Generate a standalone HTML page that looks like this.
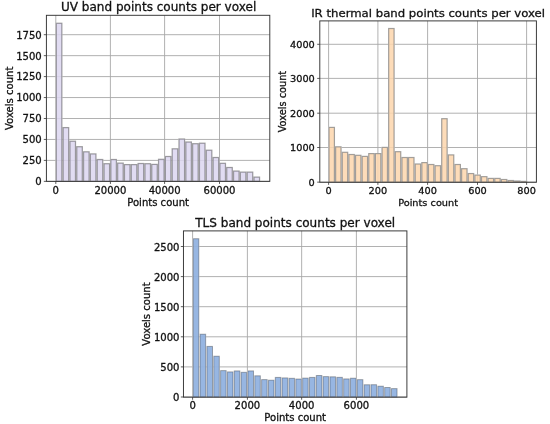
<!DOCTYPE html>
<html><head><meta charset="utf-8"><title>Points counts per voxel</title>
<style>html,body{margin:0;padding:0;background:#fff;overflow:hidden}svg{display:block}</style></head>
<body>
<svg width="550" height="424" viewBox="0 0 550 424" font-family='"DejaVu Sans", "Liberation Sans", sans-serif'>
<rect width="550" height="424" fill="#fff"/>
<g>
<g stroke="#a8a8a8" stroke-width="0.9"><line x1="55.8" y1="15.3" x2="55.8" y2="181.35"/><line x1="110.4" y1="15.3" x2="110.4" y2="181.35"/><line x1="164.6" y1="15.3" x2="164.6" y2="181.35"/><line x1="219.5" y1="15.3" x2="219.5" y2="181.35"/><line x1="46.4" y1="181.35" x2="269.8" y2="181.35"/><line x1="46.4" y1="160.4" x2="269.8" y2="160.4"/><line x1="46.4" y1="139.45" x2="269.8" y2="139.45"/><line x1="46.4" y1="118.5" x2="269.8" y2="118.5"/><line x1="46.4" y1="97.55" x2="269.8" y2="97.55"/><line x1="46.4" y1="76.6" x2="269.8" y2="76.6"/><line x1="46.4" y1="55.65" x2="269.8" y2="55.65"/><line x1="46.4" y1="34.7" x2="269.8" y2="34.7"/></g>
<g fill="none" stroke="#fff" stroke-width="1.235"><rect x="56.29" y="23.25" width="5.58" height="158.1"/><rect x="63.1" y="127.6" width="5.58" height="53.75"/><rect x="69.92" y="141.2" width="5.58" height="40.15"/><rect x="76.74" y="146.7" width="5.58" height="34.65"/><rect x="83.55" y="151.8" width="5.58" height="29.55"/><rect x="90.37" y="153.9" width="5.58" height="27.45"/><rect x="97.19" y="159.5" width="5.58" height="21.85"/><rect x="104" y="163.7" width="5.58" height="17.65"/><rect x="110.82" y="159.5" width="5.58" height="21.85"/><rect x="117.64" y="163.1" width="5.58" height="18.25"/><rect x="124.46" y="164.6" width="5.58" height="16.75"/><rect x="131.27" y="164.6" width="5.58" height="16.75"/><rect x="138.09" y="163.5" width="5.58" height="17.85"/><rect x="144.91" y="163.7" width="5.58" height="17.65"/><rect x="151.72" y="164.4" width="5.58" height="16.95"/><rect x="158.54" y="159.3" width="5.58" height="22.05"/><rect x="165.36" y="156.5" width="5.58" height="24.85"/><rect x="172.17" y="148.8" width="5.58" height="32.55"/><rect x="178.99" y="139" width="5.58" height="42.35"/><rect x="185.81" y="142" width="5.58" height="39.35"/><rect x="192.62" y="143.7" width="5.58" height="37.65"/><rect x="199.44" y="143.2" width="5.58" height="38.15"/><rect x="206.26" y="150.2" width="5.58" height="31.15"/><rect x="213.08" y="157.5" width="5.58" height="23.85"/><rect x="219.89" y="163.3" width="5.58" height="18.05"/><rect x="226.71" y="167.5" width="5.58" height="13.85"/><rect x="233.53" y="171.05" width="5.58" height="10.3"/><rect x="240.34" y="172.1" width="5.58" height="9.25"/><rect x="247.16" y="172.1" width="5.58" height="9.25"/><rect x="253.98" y="177.1" width="5.58" height="4.25"/></g>
<g fill="#dcd6f0" fill-opacity="0.86" stroke="#000" stroke-opacity="0.36" stroke-width="1.235"><rect x="56.29" y="23.25" width="5.58" height="158.1"/><rect x="63.1" y="127.6" width="5.58" height="53.75"/><rect x="69.92" y="141.2" width="5.58" height="40.15"/><rect x="76.74" y="146.7" width="5.58" height="34.65"/><rect x="83.55" y="151.8" width="5.58" height="29.55"/><rect x="90.37" y="153.9" width="5.58" height="27.45"/><rect x="97.19" y="159.5" width="5.58" height="21.85"/><rect x="104" y="163.7" width="5.58" height="17.65"/><rect x="110.82" y="159.5" width="5.58" height="21.85"/><rect x="117.64" y="163.1" width="5.58" height="18.25"/><rect x="124.46" y="164.6" width="5.58" height="16.75"/><rect x="131.27" y="164.6" width="5.58" height="16.75"/><rect x="138.09" y="163.5" width="5.58" height="17.85"/><rect x="144.91" y="163.7" width="5.58" height="17.65"/><rect x="151.72" y="164.4" width="5.58" height="16.95"/><rect x="158.54" y="159.3" width="5.58" height="22.05"/><rect x="165.36" y="156.5" width="5.58" height="24.85"/><rect x="172.17" y="148.8" width="5.58" height="32.55"/><rect x="178.99" y="139" width="5.58" height="42.35"/><rect x="185.81" y="142" width="5.58" height="39.35"/><rect x="192.62" y="143.7" width="5.58" height="37.65"/><rect x="199.44" y="143.2" width="5.58" height="38.15"/><rect x="206.26" y="150.2" width="5.58" height="31.15"/><rect x="213.08" y="157.5" width="5.58" height="23.85"/><rect x="219.89" y="163.3" width="5.58" height="18.05"/><rect x="226.71" y="167.5" width="5.58" height="13.85"/><rect x="233.53" y="171.05" width="5.58" height="10.3"/><rect x="240.34" y="172.1" width="5.58" height="9.25"/><rect x="247.16" y="172.1" width="5.58" height="9.25"/><rect x="253.98" y="177.1" width="5.58" height="4.25"/></g>
<g stroke="#333" stroke-width="0.8"><line x1="55.8" y1="181.35" x2="55.8" y2="183.95"/><line x1="110.4" y1="181.35" x2="110.4" y2="183.95"/><line x1="164.6" y1="181.35" x2="164.6" y2="183.95"/><line x1="219.5" y1="181.35" x2="219.5" y2="183.95"/><line x1="43.8" y1="181.35" x2="46.4" y2="181.35"/><line x1="43.8" y1="160.4" x2="46.4" y2="160.4"/><line x1="43.8" y1="139.45" x2="46.4" y2="139.45"/><line x1="43.8" y1="118.5" x2="46.4" y2="118.5"/><line x1="43.8" y1="97.55" x2="46.4" y2="97.55"/><line x1="43.8" y1="76.6" x2="46.4" y2="76.6"/><line x1="43.8" y1="55.65" x2="46.4" y2="55.65"/><line x1="43.8" y1="34.7" x2="46.4" y2="34.7"/></g>
<rect x="46.4" y="15.3" width="223.4" height="166.05" fill="none" stroke="#333" stroke-width="0.95"/>
<g font-size="10.05" fill="#111" stroke="#111" stroke-width="0.3"><text transform="translate(55.8 193.5) scale(1 0.96)" text-anchor="middle">0</text><text transform="translate(110.4 193.5) scale(1 0.96)" text-anchor="middle">20000</text><text transform="translate(164.6 193.5) scale(1 0.96)" text-anchor="middle">40000</text><text transform="translate(219.5 193.5) scale(1 0.96)" text-anchor="middle">60000</text><text transform="translate(41.7 185.22) scale(1 0.96)" text-anchor="end">0</text><text transform="translate(41.7 164.27) scale(1 0.96)" text-anchor="end">250</text><text transform="translate(41.7 143.32) scale(1 0.96)" text-anchor="end">500</text><text transform="translate(41.7 122.37) scale(1 0.96)" text-anchor="end">750</text><text transform="translate(41.7 101.42) scale(1 0.96)" text-anchor="end">1000</text><text transform="translate(41.7 80.47) scale(1 0.96)" text-anchor="end">1250</text><text transform="translate(41.7 59.52) scale(1 0.96)" text-anchor="end">1500</text><text transform="translate(41.7 38.57) scale(1 0.96)" text-anchor="end">1750</text><text transform="translate(158.1 205.6) scale(1 0.96)" text-anchor="middle">Points count</text><text transform="translate(12.7 98.33) rotate(-90)" text-anchor="middle">Voxels count</text></g>
<text transform="translate(158.6 11.4) scale(1 0.96)" text-anchor="middle" font-size="12.05" fill="#111" stroke="#111" stroke-width="0.3">UV band points counts per voxel</text>
</g>
<g>
<g stroke="#a8a8a8" stroke-width="0.9"><line x1="328.6" y1="20.9" x2="328.6" y2="182.25"/><line x1="377.9" y1="20.9" x2="377.9" y2="182.25"/><line x1="427.6" y1="20.9" x2="427.6" y2="182.25"/><line x1="477.5" y1="20.9" x2="477.5" y2="182.25"/><line x1="526.6" y1="20.9" x2="526.6" y2="182.25"/><line x1="319.8" y1="182.15" x2="536.4" y2="182.15"/><line x1="319.8" y1="147.5" x2="536.4" y2="147.5"/><line x1="319.8" y1="113.2" x2="536.4" y2="113.2"/><line x1="319.8" y1="78.4" x2="536.4" y2="78.4"/><line x1="319.8" y1="44.3" x2="536.4" y2="44.3"/></g>
<g fill="none" stroke="#fff" stroke-width="1.2"><rect x="328.99" y="127.4" width="5.43" height="54.85"/><rect x="335.62" y="146.8" width="5.43" height="35.45"/><rect x="342.25" y="152.3" width="5.43" height="29.95"/><rect x="348.88" y="154.5" width="5.43" height="27.75"/><rect x="355.51" y="155.3" width="5.43" height="26.95"/><rect x="362.14" y="156.4" width="5.43" height="25.85"/><rect x="368.77" y="153.6" width="5.43" height="28.65"/><rect x="375.4" y="153.6" width="5.43" height="28.65"/><rect x="382.03" y="147.4" width="5.43" height="34.85"/><rect x="388.66" y="28.5" width="5.43" height="153.75"/><rect x="395.3" y="151.7" width="5.43" height="30.55"/><rect x="401.93" y="157.5" width="5.43" height="24.75"/><rect x="408.56" y="157.5" width="5.43" height="24.75"/><rect x="415.19" y="164" width="5.43" height="18.25"/><rect x="421.82" y="162.6" width="5.43" height="19.65"/><rect x="428.45" y="164.5" width="5.43" height="17.75"/><rect x="435.08" y="165.7" width="5.43" height="16.55"/><rect x="441.71" y="118.7" width="5.43" height="63.55"/><rect x="448.34" y="154.9" width="5.43" height="27.35"/><rect x="454.97" y="164.5" width="5.43" height="17.75"/><rect x="461.61" y="168.7" width="5.43" height="13.55"/><rect x="468.24" y="173.55" width="5.43" height="8.7"/><rect x="474.87" y="175.1" width="5.43" height="7.15"/><rect x="481.5" y="176.65" width="5.43" height="5.6"/><rect x="488.13" y="178.4" width="5.43" height="3.85"/><rect x="494.76" y="178.4" width="5.43" height="3.85"/><rect x="501.39" y="179.5" width="5.43" height="2.75"/><rect x="508.02" y="180.5" width="5.43" height="1.75"/><rect x="514.65" y="181" width="5.43" height="1.25"/><rect x="521.28" y="181.4" width="5.43" height="0.85"/></g>
<g fill="#fdd6ae" fill-opacity="0.86" stroke="#7c7c7c" stroke-opacity="0.7" stroke-width="1.2"><rect x="328.99" y="127.4" width="5.43" height="54.85"/><rect x="335.62" y="146.8" width="5.43" height="35.45"/><rect x="342.25" y="152.3" width="5.43" height="29.95"/><rect x="348.88" y="154.5" width="5.43" height="27.75"/><rect x="355.51" y="155.3" width="5.43" height="26.95"/><rect x="362.14" y="156.4" width="5.43" height="25.85"/><rect x="368.77" y="153.6" width="5.43" height="28.65"/><rect x="375.4" y="153.6" width="5.43" height="28.65"/><rect x="382.03" y="147.4" width="5.43" height="34.85"/><rect x="388.66" y="28.5" width="5.43" height="153.75"/><rect x="395.3" y="151.7" width="5.43" height="30.55"/><rect x="401.93" y="157.5" width="5.43" height="24.75"/><rect x="408.56" y="157.5" width="5.43" height="24.75"/><rect x="415.19" y="164" width="5.43" height="18.25"/><rect x="421.82" y="162.6" width="5.43" height="19.65"/><rect x="428.45" y="164.5" width="5.43" height="17.75"/><rect x="435.08" y="165.7" width="5.43" height="16.55"/><rect x="441.71" y="118.7" width="5.43" height="63.55"/><rect x="448.34" y="154.9" width="5.43" height="27.35"/><rect x="454.97" y="164.5" width="5.43" height="17.75"/><rect x="461.61" y="168.7" width="5.43" height="13.55"/><rect x="468.24" y="173.55" width="5.43" height="8.7"/><rect x="474.87" y="175.1" width="5.43" height="7.15"/><rect x="481.5" y="176.65" width="5.43" height="5.6"/><rect x="488.13" y="178.4" width="5.43" height="3.85"/><rect x="494.76" y="178.4" width="5.43" height="3.85"/><rect x="501.39" y="179.5" width="5.43" height="2.75"/><rect x="508.02" y="180.5" width="5.43" height="1.75"/><rect x="514.65" y="181" width="5.43" height="1.25"/><rect x="521.28" y="181.4" width="5.43" height="0.85"/></g>
<g stroke="#333" stroke-width="0.8"><line x1="328.6" y1="182.25" x2="328.6" y2="184.85"/><line x1="377.9" y1="182.25" x2="377.9" y2="184.85"/><line x1="427.6" y1="182.25" x2="427.6" y2="184.85"/><line x1="477.5" y1="182.25" x2="477.5" y2="184.85"/><line x1="526.6" y1="182.25" x2="526.6" y2="184.85"/><line x1="317.2" y1="182.15" x2="319.8" y2="182.15"/><line x1="317.2" y1="147.5" x2="319.8" y2="147.5"/><line x1="317.2" y1="113.2" x2="319.8" y2="113.2"/><line x1="317.2" y1="78.4" x2="319.8" y2="78.4"/><line x1="317.2" y1="44.3" x2="319.8" y2="44.3"/></g>
<rect x="319.8" y="20.9" width="216.6" height="161.35" fill="none" stroke="#333" stroke-width="0.95"/>
<g font-size="9.75" fill="#111" stroke="#111" stroke-width="0.3"><text transform="translate(328.6 194) scale(1 0.96)" text-anchor="middle">0</text><text transform="translate(377.9 194) scale(1 0.96)" text-anchor="middle">200</text><text transform="translate(427.6 194) scale(1 0.96)" text-anchor="middle">400</text><text transform="translate(477.5 194) scale(1 0.96)" text-anchor="middle">600</text><text transform="translate(526.6 194) scale(1 0.96)" text-anchor="middle">800</text><text transform="translate(314.8 185.92) scale(1 0.96)" text-anchor="end">0</text><text transform="translate(314.8 151.27) scale(1 0.96)" text-anchor="end">1000</text><text transform="translate(314.8 116.97) scale(1 0.96)" text-anchor="end">2000</text><text transform="translate(314.8 82.17) scale(1 0.96)" text-anchor="end">3000</text><text transform="translate(314.8 48.07) scale(1 0.96)" text-anchor="end">4000</text><text transform="translate(428.1 205.8) scale(1 0.96)" text-anchor="middle">Points count</text><text transform="translate(286.2 101.58) rotate(-90)" text-anchor="middle">Voxels count</text></g>
<text transform="translate(428.1 17.1) scale(1 0.96)" text-anchor="middle" font-size="11.7" fill="#111" stroke="#111" stroke-width="0.3">IR thermal band points counts per voxel</text>
</g>
<g>
<g stroke="#a8a8a8" stroke-width="0.9"><line x1="192.6" y1="230.9" x2="192.6" y2="397.15"/><line x1="247.4" y1="230.9" x2="247.4" y2="397.15"/><line x1="301.65" y1="230.9" x2="301.65" y2="397.15"/><line x1="356.4" y1="230.9" x2="356.4" y2="397.15"/><line x1="183.45" y1="397" x2="406.9" y2="397"/><line x1="183.45" y1="366.9" x2="406.9" y2="366.9"/><line x1="183.45" y1="336.8" x2="406.9" y2="336.8"/><line x1="183.45" y1="306.7" x2="406.9" y2="306.7"/><line x1="183.45" y1="276.6" x2="406.9" y2="276.6"/><line x1="183.45" y1="246.5" x2="406.9" y2="246.5"/></g>
<g fill="none" stroke="#fff" stroke-width="1.0"><rect x="193.25" y="238.7" width="5.57" height="158.45"/><rect x="200.09" y="334.2" width="5.57" height="62.95"/><rect x="206.92" y="346.4" width="5.57" height="50.75"/><rect x="213.76" y="356.2" width="5.57" height="40.95"/><rect x="220.59" y="370.6" width="5.57" height="26.55"/><rect x="227.43" y="371.9" width="5.57" height="25.25"/><rect x="234.27" y="370.9" width="5.57" height="26.25"/><rect x="241.1" y="372.3" width="5.57" height="24.85"/><rect x="247.94" y="370.9" width="5.57" height="26.25"/><rect x="254.77" y="375.8" width="5.57" height="21.35"/><rect x="261.61" y="379.6" width="5.57" height="17.55"/><rect x="268.45" y="380.2" width="5.57" height="16.95"/><rect x="275.28" y="377.4" width="5.57" height="19.75"/><rect x="282.12" y="377.9" width="5.57" height="19.25"/><rect x="288.95" y="378.3" width="5.57" height="18.85"/><rect x="295.79" y="379" width="5.57" height="18.15"/><rect x="302.63" y="378.1" width="5.57" height="19.05"/><rect x="309.46" y="377.4" width="5.57" height="19.75"/><rect x="316.3" y="375.5" width="5.57" height="21.65"/><rect x="323.13" y="376.6" width="5.57" height="20.55"/><rect x="329.97" y="376.8" width="5.57" height="20.35"/><rect x="336.81" y="377.35" width="5.57" height="19.8"/><rect x="343.64" y="378.9" width="5.57" height="18.25"/><rect x="350.48" y="378.2" width="5.57" height="18.95"/><rect x="357.31" y="379.65" width="5.57" height="17.5"/><rect x="364.15" y="384.75" width="5.57" height="12.4"/><rect x="370.99" y="384.7" width="5.57" height="12.45"/><rect x="377.82" y="386.2" width="5.57" height="10.95"/><rect x="384.66" y="387.5" width="5.57" height="9.65"/><rect x="391.49" y="388.6" width="5.57" height="8.55"/></g>
<g fill="#91b1e0" fill-opacity="0.94" stroke="#000" stroke-opacity="0.3" stroke-width="1.0"><rect x="193.25" y="238.7" width="5.57" height="158.45"/><rect x="200.09" y="334.2" width="5.57" height="62.95"/><rect x="206.92" y="346.4" width="5.57" height="50.75"/><rect x="213.76" y="356.2" width="5.57" height="40.95"/><rect x="220.59" y="370.6" width="5.57" height="26.55"/><rect x="227.43" y="371.9" width="5.57" height="25.25"/><rect x="234.27" y="370.9" width="5.57" height="26.25"/><rect x="241.1" y="372.3" width="5.57" height="24.85"/><rect x="247.94" y="370.9" width="5.57" height="26.25"/><rect x="254.77" y="375.8" width="5.57" height="21.35"/><rect x="261.61" y="379.6" width="5.57" height="17.55"/><rect x="268.45" y="380.2" width="5.57" height="16.95"/><rect x="275.28" y="377.4" width="5.57" height="19.75"/><rect x="282.12" y="377.9" width="5.57" height="19.25"/><rect x="288.95" y="378.3" width="5.57" height="18.85"/><rect x="295.79" y="379" width="5.57" height="18.15"/><rect x="302.63" y="378.1" width="5.57" height="19.05"/><rect x="309.46" y="377.4" width="5.57" height="19.75"/><rect x="316.3" y="375.5" width="5.57" height="21.65"/><rect x="323.13" y="376.6" width="5.57" height="20.55"/><rect x="329.97" y="376.8" width="5.57" height="20.35"/><rect x="336.81" y="377.35" width="5.57" height="19.8"/><rect x="343.64" y="378.9" width="5.57" height="18.25"/><rect x="350.48" y="378.2" width="5.57" height="18.95"/><rect x="357.31" y="379.65" width="5.57" height="17.5"/><rect x="364.15" y="384.75" width="5.57" height="12.4"/><rect x="370.99" y="384.7" width="5.57" height="12.45"/><rect x="377.82" y="386.2" width="5.57" height="10.95"/><rect x="384.66" y="387.5" width="5.57" height="9.65"/><rect x="391.49" y="388.6" width="5.57" height="8.55"/></g>
<g stroke="#333" stroke-width="0.8"><line x1="192.6" y1="397.15" x2="192.6" y2="399.75"/><line x1="247.4" y1="397.15" x2="247.4" y2="399.75"/><line x1="301.65" y1="397.15" x2="301.65" y2="399.75"/><line x1="356.4" y1="397.15" x2="356.4" y2="399.75"/><line x1="180.85" y1="397" x2="183.45" y2="397"/><line x1="180.85" y1="366.9" x2="183.45" y2="366.9"/><line x1="180.85" y1="336.8" x2="183.45" y2="336.8"/><line x1="180.85" y1="306.7" x2="183.45" y2="306.7"/><line x1="180.85" y1="276.6" x2="183.45" y2="276.6"/><line x1="180.85" y1="246.5" x2="183.45" y2="246.5"/></g>
<rect x="183.45" y="230.9" width="223.45" height="166.25" fill="none" stroke="#333" stroke-width="0.95"/>
<g font-size="10.05" fill="#111" stroke="#111" stroke-width="0.3"><text transform="translate(192.6 409) scale(1 0.96)" text-anchor="middle">0</text><text transform="translate(247.4 409) scale(1 0.96)" text-anchor="middle">2000</text><text transform="translate(301.65 409) scale(1 0.96)" text-anchor="middle">4000</text><text transform="translate(356.4 409) scale(1 0.96)" text-anchor="middle">6000</text><text transform="translate(179.5 401.42) scale(1 0.96)" text-anchor="end">0</text><text transform="translate(179.5 371.32) scale(1 0.96)" text-anchor="end">500</text><text transform="translate(179.5 341.22) scale(1 0.96)" text-anchor="end">1000</text><text transform="translate(179.5 311.12) scale(1 0.96)" text-anchor="end">1500</text><text transform="translate(179.5 281.02) scale(1 0.96)" text-anchor="end">2000</text><text transform="translate(179.5 250.92) scale(1 0.96)" text-anchor="end">2500</text><text transform="translate(295.17 421.45) scale(1 0.96)" text-anchor="middle">Points count</text><text transform="translate(150.1 314.02) rotate(-90)" text-anchor="middle">Voxels count</text></g>
<text transform="translate(295.17 226.7) scale(1 0.96)" text-anchor="middle" font-size="12.05" fill="#111" stroke="#111" stroke-width="0.3">TLS band points counts per voxel</text>
</g>
</svg>
</body></html>
